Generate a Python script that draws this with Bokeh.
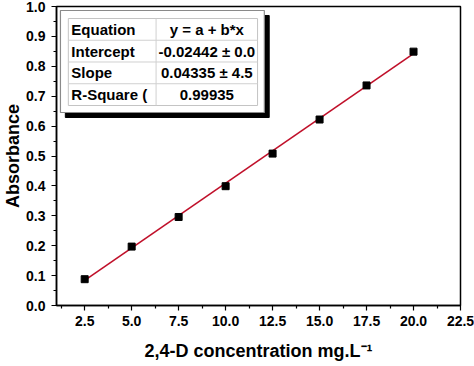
from bokeh.plotting import figure
from bokeh.models import FixedTicker, PrintfTickFormatter, Range1d
from bokeh.core.properties import value
from bokeh.embed import file_html
from bokeh.resources import INLINE

# ---- data ----
conc = [2.5, 5.0, 7.5, 10.0, 12.5, 15.0, 17.5, 20.0]
absorbance = [0.088, 0.197, 0.296, 0.399, 0.508, 0.622, 0.736, 0.849]
intercept = -0.02442
slope = 0.04335
x_ticks = [2.5, 5.0, 7.5, 10.0, 12.5, 15.0, 17.5, 20.0, 22.5]
y_ticks = [0.0, 0.1, 0.2, 0.3, 0.4, 0.5, 0.6, 0.7, 0.8, 0.9, 1.0]
table_keys = ["Equation", "Intercept", "Slope", "R-Square ("]
table_vals = ["y = a + b*x", "-0.02442 \u00b1 0.0", "0.04335 \u00b1 4.5", "0.99935"]
x_label = "2,4-D concentration mg.L\u207b\u00b9"
y_label = "Absorbance"

FONT = "Liberation Sans"

p = figure(width=474, height=366, output_backend="svg", toolbar_location=None,
           x_range=Range1d(1.0, 22.5), y_range=Range1d(0.0, 1.0),
           min_border_left=51, min_border_right=14, min_border_top=6,
           min_border_bottom=61)
p.background_fill_color = "white"
p.border_fill_color = "white"
p.outline_line_color = "black"
p.outline_line_width = 1.5
p.xgrid.visible = False
p.ygrid.visible = False

for ax in (p.xaxis[0], p.yaxis[0]):
    ax.axis_line_width = 1.5
    ax.major_tick_line_width = 1.2
    ax.minor_tick_line_width = 1.2
    ax.major_tick_in = 0
    ax.major_tick_out = 5
    ax.minor_tick_in = 0
    ax.minor_tick_out = 3
    ax.major_label_text_font = FONT
    ax.major_label_text_font_style = "bold"
    ax.major_label_text_font_size = "14px"
    ax.major_label_text_color = "black"
    ax.formatter = PrintfTickFormatter(format="%.1f")
    ax.axis_label_text_font = FONT
    ax.axis_label_text_font_style = "bold"
    ax.axis_label_text_color = "black"

p.xaxis.ticker = FixedTicker(ticks=x_ticks, minor_ticks=[v - 1.25 for v in x_ticks])
p.yaxis.ticker = FixedTicker(ticks=y_ticks, minor_ticks=[v + 0.05 for v in y_ticks[:-1]])
p.xaxis.major_label_standoff = 5
p.yaxis.major_label_standoff = 6

p.yaxis.axis_label = y_label
p.yaxis.axis_label_text_font_size = "18px"
p.yaxis.axis_label_standoff = 0

p.xaxis.axis_label = x_label
p.xaxis.axis_label_text_font_size = "18px"
p.xaxis.axis_label_standoff = 12

# fit line
fx = [min(conc), max(conc)]
fy = [intercept + slope * v for v in fx]
p.line(fx, fy, line_color="#c0102a", line_width=1.6)
p.scatter(conc, absorbance, marker="square", size=7, fill_color="black",
          line_color="black")

# ---- stats table (Origin style) ----
x0, x1, y0, y1 = 1.21, 12.06, 0.6455, 0.9866
dx, dy = 0.26, -0.0167
p.quad(left=[x0 + dx], right=[x1 + dx], bottom=[y0 + dy], top=[y1 + dy],
       fill_color="black", line_color="black")
p.quad(left=[x0], right=[x1], bottom=[y0], top=[y1],
       fill_color="white", line_color="#8a8a8a", line_width=1.2)
tx0, tx1, ty0, ty1 = 1.63, 11.70, 0.6689, 0.9599
tcol = 6.30
p.quad(left=[tx0], right=[tx1], bottom=[ty0], top=[ty1],
       fill_alpha=0, line_color="#c4c4c4", line_width=1)
nrows = len(table_keys)
rh = (ty1 - ty0) / nrows
for i in range(1, nrows):
    yy = ty1 - i * rh
    p.line([tx0, tx1], [yy, yy], line_color="#d0d0d0", line_width=1)
p.line([tcol, tcol], [ty0, ty1], line_color="#d0d0d0", line_width=1)
ys = [ty1 - (i + 0.5) * rh for i in range(nrows)]
p.text(x=[tx0 + 0.16] * nrows, y=ys, text=table_keys, text_font=value(FONT),
       text_font_style="bold", text_font_size="15px", text_baseline="middle",
       text_align="left", text_color="black")
p.text(x=[(tcol + tx1) / 2] * nrows, y=ys, text=table_vals, text_font=value(FONT),
       text_font_style="bold", text_font_size="15px", text_baseline="middle",
       text_align="center", text_color="black")

open("out.html", "w").write(file_html(p, INLINE))
